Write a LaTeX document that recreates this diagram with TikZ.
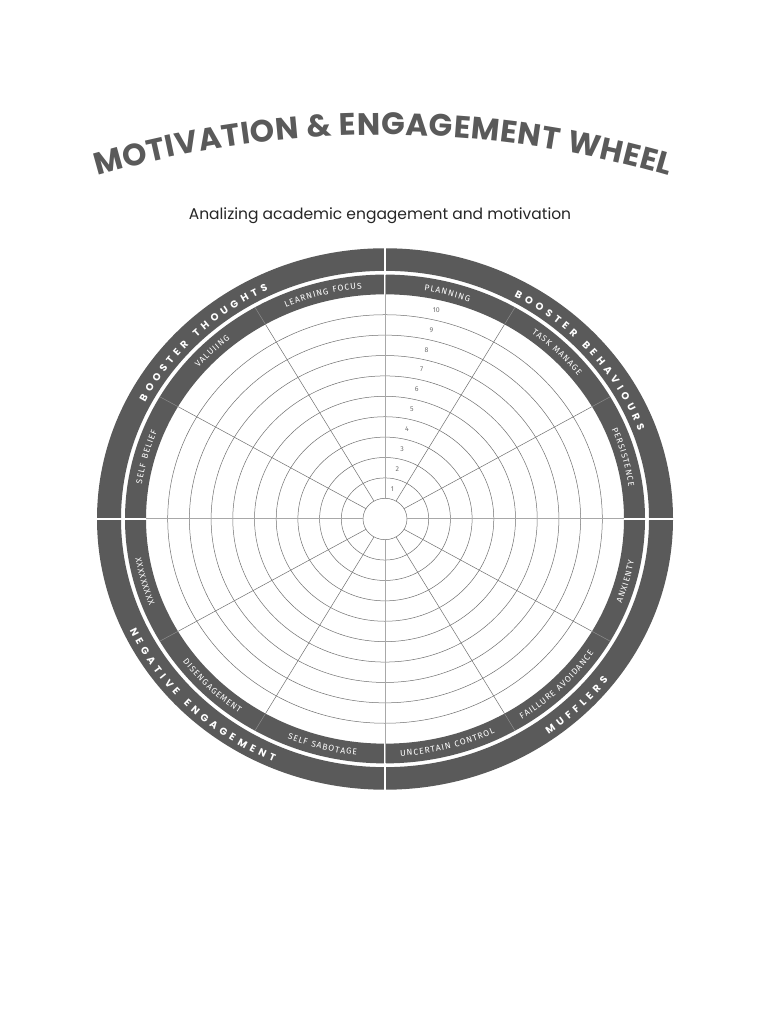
\documentclass[tikz,border=0pt]{standalone}
\usepackage{fontspec}
\setmainfont{Poppins}
\newfontfamily\labfont{Fira Sans}
\usetikzlibrary{decorations.text}
\definecolor{dark}{HTML}{5A5A5A}
\definecolor{gridc}{HTML}{707070}
\definecolor{axisc}{HTML}{A8A8A8}
\newcommand\curvlab[6]{% radius, start, end, font, sep, text
  \path[decorate,decoration={text effects along path, text={#6}, text align=center,
    text effects/.cd, text along path,
    characters={text=white, font=#4, inner xsep=#5},
    character widths={font=#4, inner xsep=#5}}]
    ({#2}:#1) arc[start angle=#2, end angle=#3, radius=#1];}
\begin{document}
\begin{tikzpicture}[x=1pt,y=1pt]
\useasboundingbox (0,0) rectangle (768,1024);
\fill[white] (0,0) rectangle (768,1024);
% title
\def\tf{\fontsize{31}{31}\selectfont\bfseries}
\path[decorate,decoration={text effects along path, text={MOTIVATION {\&} ENGAGEMENT WHEEL}, text align=center,
    text effects/.cd, text along path,
    characters={text=dark, font=\tf, inner xsep=0.3pt},
    character widths={font=\tf, inner xsep=0.3pt}}]
  (383,-128) ++(108:1017) arc[start angle=108, end angle=72, radius=1017];
\node[text=black!85, font=\fontsize{15.5}{17}\selectfont] (sub) at (380,808) {Analizing academic engagement and motivation};
\begin{scope}[shift={(385,505)}, yscale=0.94]
  % bands
  \fill[dark, even odd rule] (0,0) circle[radius=288] (0,0) circle[radius=264];
  \fill[dark, even odd rule] (0,0) circle[radius=260] (0,0) circle[radius=239];
  % white dividers
  \foreach \a in {0,90,180,270} \draw[white, line width=2.2pt] (\a:238) -- (\a:290);
  \foreach \a in {90,270} \draw[axisc, line width=0.8pt] (\a:239) -- (\a:260);
  \foreach \a in {30,60,120,150,210,240,300,330} \draw[gridc!80, line width=0.5pt] (\a:239) -- (\a:260);
  % rings
  \foreach \k in {1,...,9} \draw[gridc, line width=0.5pt] (0,0) circle[radius={22+21.7*\k}];
  \draw[gridc, line width=0.5pt] (0,0) circle[radius=22];
  % spokes
  \foreach \a in {30,60,120,150,210,240,300,330} \draw[gridc, line width=0.5pt] (\a:22) -- (\a:239);
  \foreach \a in {0,90,180,270} \draw[axisc, line width=1pt] (\a:22) -- (\a:239);
  % numbers
  \foreach \k in {1,...,10} \node[text=gridc, font=\labfont\fontsize{7}{7}\selectfont] at (77:{22+21.7*(\k-0.5)}) {\k};
  % outer labels
  \def\of{\bfseries\fontsize{10}{10}\selectfont}
  \curvlab{270}{185}{85}{\of}{2.2pt}{BOOSTER THOUGHTS}
  \curvlab{270}{90}{-10}{\of}{2.2pt}{BOOSTER BEHAVIOURS}
  \curvlab{281.5}{-95}{5}{\of}{2.2pt}{MUFFLERS}
  \curvlab{281.5}{-185}{-85}{\of}{2.2pt}{NEGATIVE ENGAGEMENT}
  % inner labels
  \def\lf{\labfont\fontsize{8.5}{8.5}\selectfont}
  \curvlab{246}{150}{60}{\lf}{0.5pt}{LEARNING FOCUS}
  \curvlab{246}{120}{30}{\lf}{0.5pt}{PLANNING}
  \curvlab{246}{90}{0}{\lf}{0.5pt}{TASK MANAGE}
  \curvlab{246}{60}{-30}{\lf}{0.5pt}{PERSISTENCE}
  \curvlab{246}{210}{120}{\lf}{0.5pt}{SELF BELIEF}
  \curvlab{246}{180}{90}{\lf}{0.5pt}{VALUIING}
  \curvlab{253}{-60}{30}{\lf}{0.5pt}{ANXIENTY}
  \curvlab{253}{-90}{0}{\lf}{0.5pt}{FAILLURE AVOIDANCE}
  \curvlab{253}{-120}{-30}{\lf}{0.5pt}{UNCERTAIN CONTROL}
  \curvlab{253}{-150}{-60}{\lf}{0.5pt}{SELF SABOTAGE}
  \curvlab{253}{-180}{-90}{\lf}{0.5pt}{DISENGAGEMENT}
  \curvlab{253}{-210}{-120}{\lf}{0.5pt}{XXXXXXXXX}
\end{scope}
\end{tikzpicture}
\end{document}
